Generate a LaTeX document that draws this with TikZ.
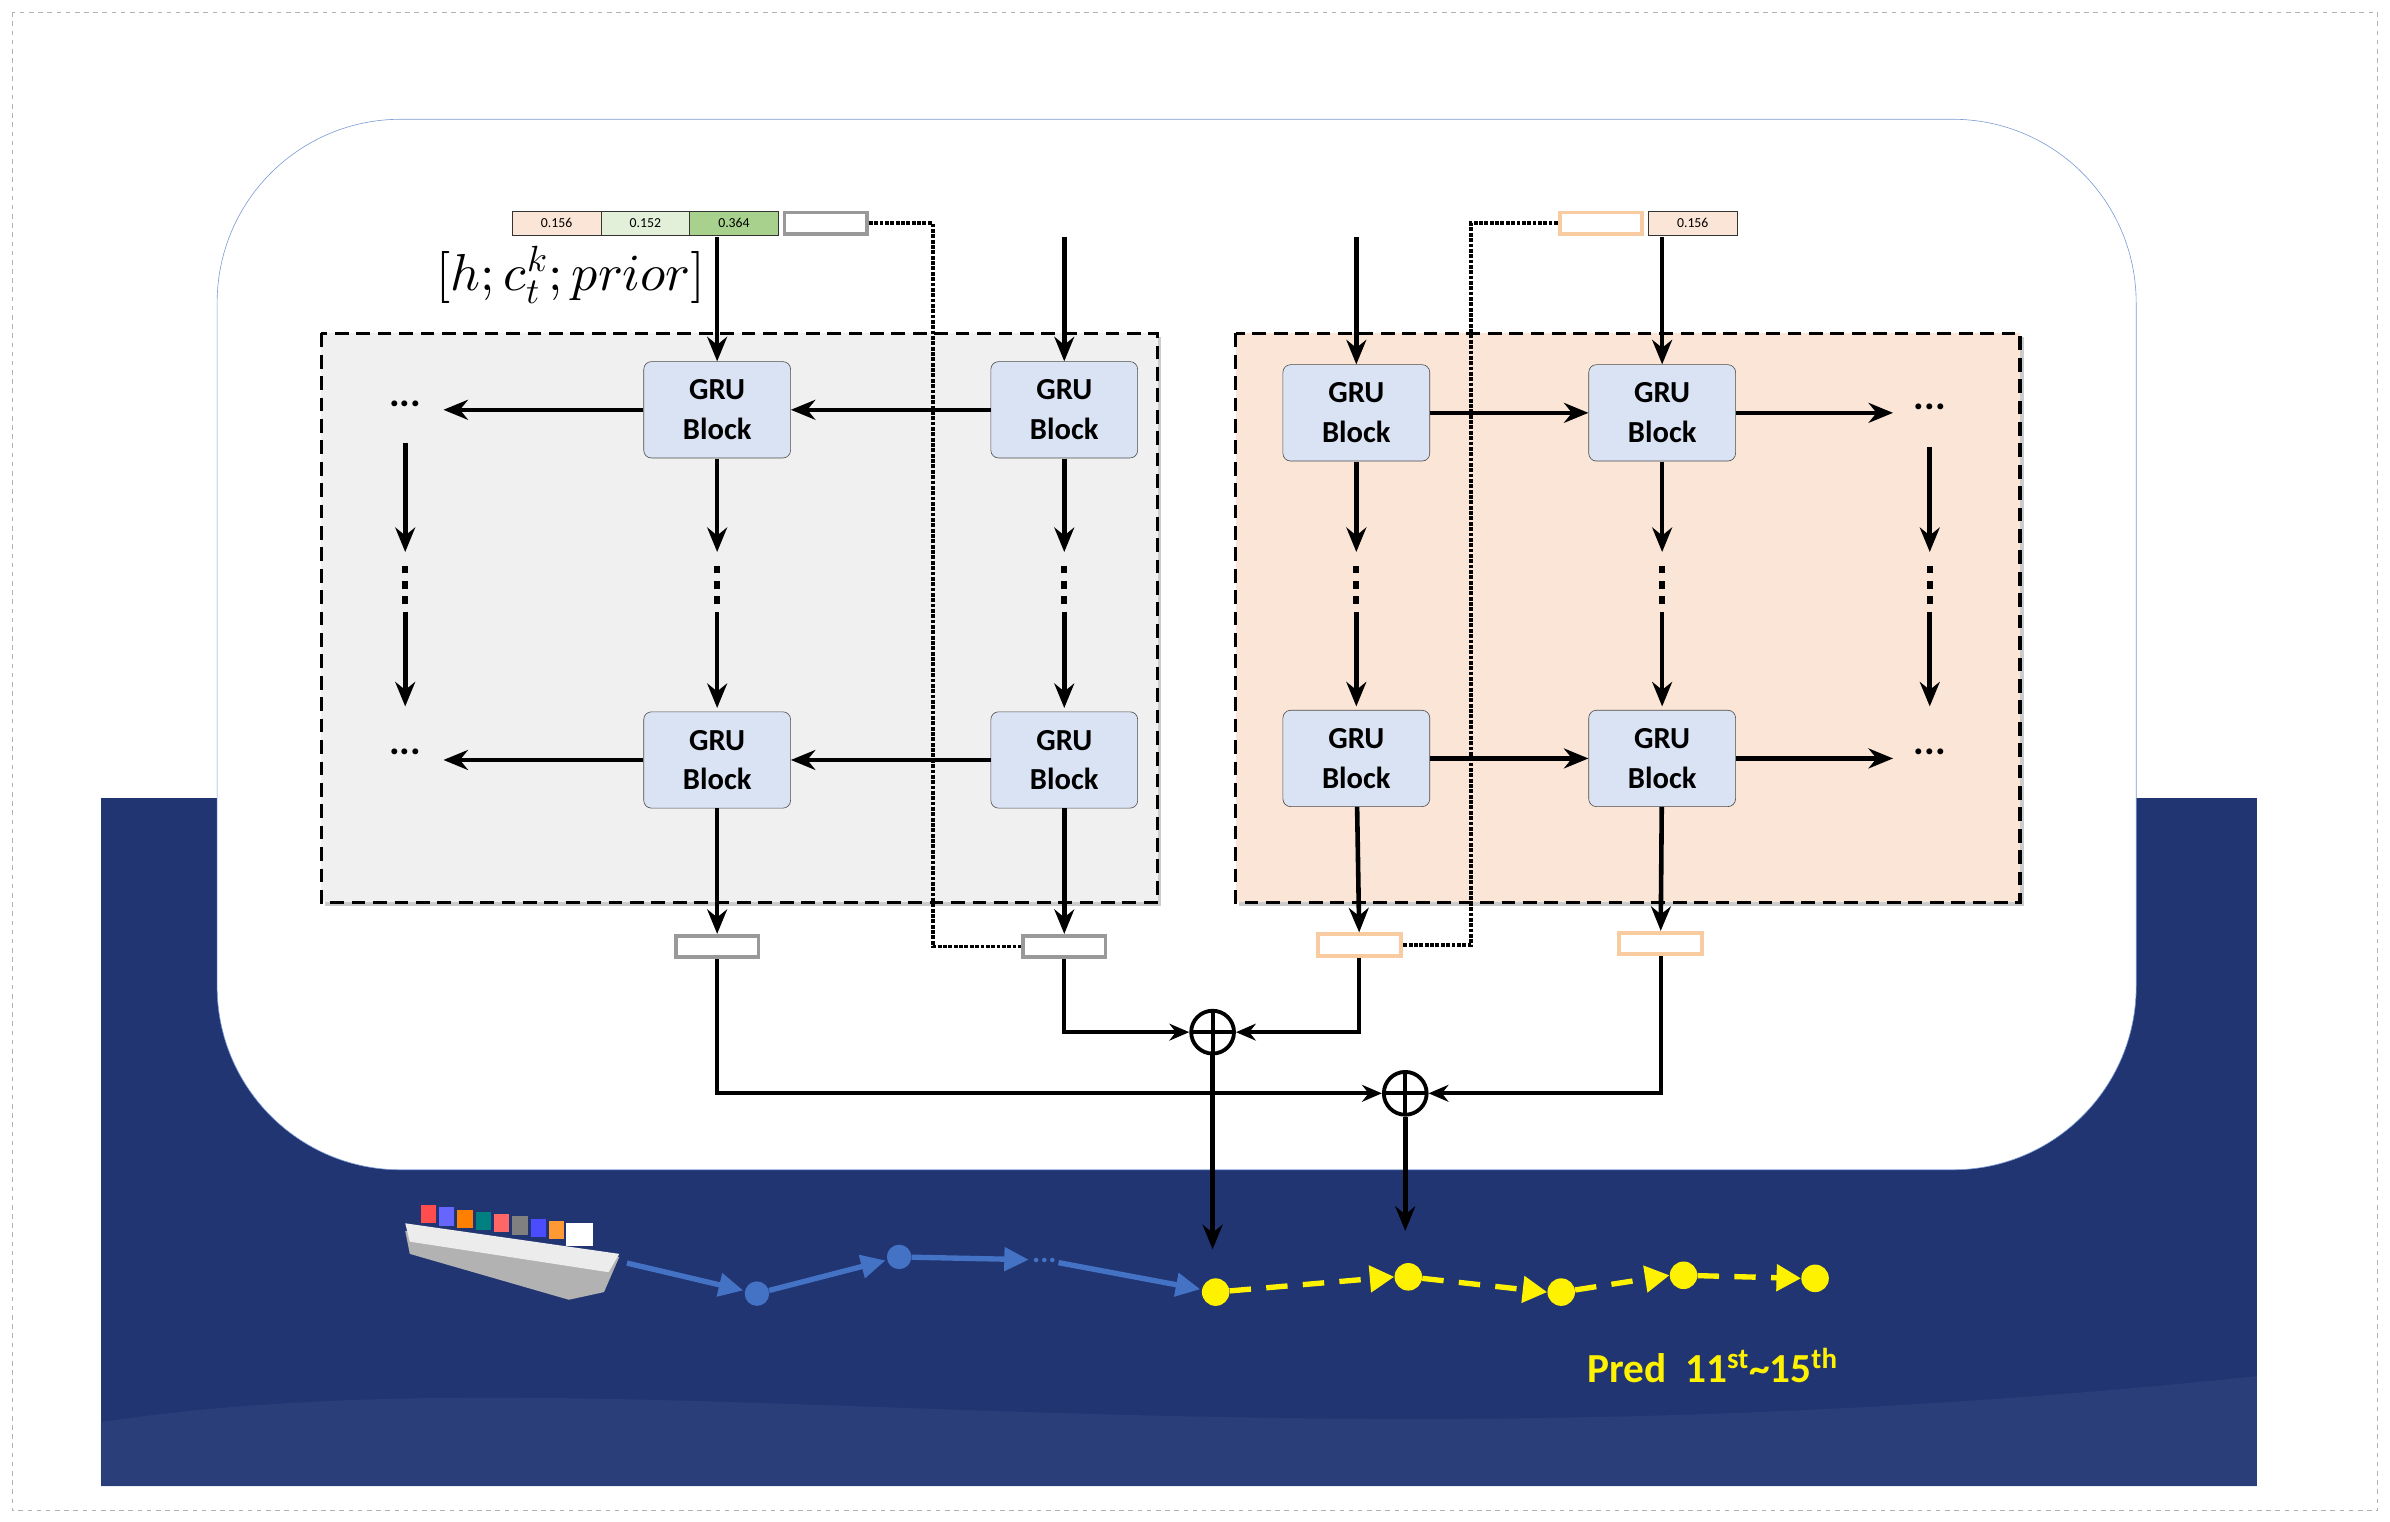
\documentclass[tikz,border=0pt]{standalone}
\usepackage{fontspec}
\setmainfont{Carlito}
\usepackage{unicode-math}
\setmathfont{Latin Modern Math}
\usetikzlibrary{arrows.meta,shadows}
\definecolor{gru}{RGB}{218,227,243}
\definecolor{peach}{RGB}{251,229,214}
\definecolor{lgreen}{RGB}{226,240,217}
\definecolor{mgreen}{RGB}{169,209,142}
\definecolor{ocean}{RGB}{33,53,115}
\definecolor{obox}{RGB}{248,203,160}
\definecolor{tblue}{RGB}{68,114,196}
\definecolor{yel}{RGB}{255,242,0}
\begin{document}
\begin{tikzpicture}[x=1pt,y=-1pt,
 gru/.style={draw=black!70,fill=gru,rounded corners=5pt,minimum width=96pt,minimum height=63pt,align=center,font=\fontsize{20}{26}\selectfont\bfseries},
 dots/.style={font=\fontsize{26}{26}\selectfont\bfseries,inner sep=1pt},
 arr/.style={-{Stealth[length=16pt,width=13pt]},line width=3pt},
 ln/.style={line width=2.5pt},
 cell/.style={draw=black!80,minimum width=58pt,minimum height=16pt,inner sep=0pt,font=\fontsize{9}{9}\selectfont},
 gbox/.style={draw=black!40,line width=2.5pt,fill=white,minimum width=54pt,minimum height=14pt,inner sep=0pt},
 obx/.style={draw=obox,line width=2.5pt,fill=white,minimum width=54pt,minimum height=14pt,inner sep=0pt},
 dotl/.style={densely dotted,line width=2.5pt},
 bpt/.style={circle,fill=tblue,inner sep=0pt,minimum size=16pt},
 ypt/.style={circle,fill=yel,inner sep=0pt,minimum size=18pt},
 barr/.style={-{Triangle[length=16pt,width=15pt]},line width=3.5pt,tblue,shorten >=1pt},
 yarr/.style={-{Triangle[length=16pt,width=17pt]},line width=3.5pt,yel,dash pattern=on 14pt off 10pt},
 oplus/.style={circle,draw,line width=2.5pt,minimum size=28pt,inner sep=0pt,path picture={\draw[line width=2.5pt] (path picture bounding box.north)--(path picture bounding box.south) (path picture bounding box.west)--(path picture bounding box.east);}}]
\useasboundingbox (0,0) rectangle (1563,995);
\draw[black!30,dashed] (8,8) rectangle (1555,988);
\fill[ocean] (66,522) rectangle (1476,972);
\fill[ocean!85!white,opacity=.3] (66,930) .. controls (400,880) and (800,970) .. (1476,900) -- (1476,972) -- (66,972) -- cycle;
\draw[tblue!70,fill=white] (142,78) [rounded corners=120pt] rectangle (1397,765);
% boxes
\draw[dash pattern=on 9pt off 5pt,line width=2pt,fill=black!6,drop shadow={opacity=.4}] (210,218) rectangle (757,590);
\draw[dash pattern=on 9pt off 5pt,line width=2pt,fill=peach,drop shadow={opacity=.4}] (808,218) rectangle (1321,590);
% GRU blocks
\node[gru] (a1) at (469,268) {GRU\\Block};
\node[gru] (a2) at (696,268) {GRU\\Block};
\node[gru] (a3) at (469,497) {GRU\\Block};
\node[gru] (a4) at (696,497) {GRU\\Block};
\node[gru] (b1) at (887,270) {GRU\\Block};
\node[gru] (b2) at (1087,270) {GRU\\Block};
\node[gru] (b3) at (887,496) {GRU\\Block};
\node[gru] (b4) at (1087,496) {GRU\\Block};
\node[dots] (d1) at (265,264) {...};
\node[dots] (d2) at (265,492) {...};
\node[dots] (d3) at (1262,266) {...};
\node[dots] (d4) at (1262,492) {...};
\draw[arr] (a2) -- (a1);
\draw[arr] (a1) -- (290,268);
\draw[arr] (a4) -- (a3);
\draw[arr] (a3) -- (290,497);
\draw[arr] (b1) -- (b2);
\draw[arr] (b2) -- (1238,270);
\draw[arr] (b3) -- (b4);
\draw[arr] (b4) -- (1238,496);
% vertical chains
\foreach \x/\t/\b in {265/290/462,469/300/463,696/300/463,887/302/462,1087/302/462,1262/292/462}{
 \draw[arr] (\x,\t) -- (\x,361);
 \draw[line width=4pt,dash pattern=on 5pt off 5pt] (\x,370) -- (\x,396);
 \draw[arr] (\x,400) -- (\x,\b);
}
% top inputs
\node[cell,fill=peach] (c1) at (364,146) {0.156};
\node[cell,fill=lgreen] (c2) at (422,146) {0.152};
\node[cell,fill=mgreen] (c3) at (480,146) {0.364};
\node[gbox] (g0) at (540,146) {};
\node[obx] (o0) at (1047,146) {};
\node[cell,fill=peach] (c4) at (1107,146) {0.156};
\node[font=\fontsize{34}{34}\selectfont] at (373,180) {$[h;c_t^k;prior]$};
\draw[arr] (469,155) -- (a1);
\draw[arr] (696,155) -- (a2);
\draw[arr] (887,155) -- (b1);
\draw[arr] (1087,155) -- (b2);
% outputs
\node[gbox] (g1) at (469,619) {};
\node[gbox] (g2) at (696,619) {};
\node[obx] (o1) at (889,618) {};
\node[obx] (o2) at (1086,617) {};
\draw[arr] (a3) -- (g1);
\draw[arr] (a4) -- (g2);
\draw[arr] (b3) -- (o1);
\draw[arr] (b4) -- (o2);
\draw[dotl] (g0.east) -- (610,146) -- (610,619) -- (g2.west);
\draw[dotl] (o0.west) -- (962,146) -- (962,618) -- (o1.east);
% sums
\node[oplus] (p1) at (793,675) {};
\node[oplus] (p2) at (919,715) {};
\draw[ln,-{Stealth[length=13pt,width=11pt]}] (g2.south) |- (p1.west);
\draw[ln,-{Stealth[length=13pt,width=11pt]}] (o1.south) |- (p1.east);
\draw[ln,-{Stealth[length=13pt,width=11pt]}] (g1.south) |- (p2.west);
\draw[ln,-{Stealth[length=13pt,width=11pt]}] (o2.south) |- (p2.east);
% ship
\begin{scope}
\fill[gray!60] (265,805) -- (405,822) -- (395,845) -- (372,850) -- (268,820) -- cycle;
\fill[white!85!gray] (265,800) -- (405,820) -- (398,832) -- (268,812) -- cycle;
\foreach \i/\c in {0/red!70,1/blue!60,2/orange,3/teal,4/red!60,5/gray,6/blue!70,7/orange!80}
  \fill[\c] (275+\i*12,800+\i*1.5) rectangle ++(10,-12);
\fill[white] (370,815) rectangle (388,800);
\end{scope}
% trajectory
\node[bpt] (t1) at (495,846) {};
\node[bpt] (t2) at (588,822) {};
\node[dots,tblue,font=\fontsize{20}{20}\selectfont\bfseries] (t3) at (683,824) {...};
\node[ypt] (y1) at (795,845) {};
\node[ypt] (y2) at (921,835) {};
\node[ypt] (y3) at (1021,845) {};
\node[ypt] (y4) at (1101,834) {};
\node[ypt] (y5) at (1187,836) {};
\coordinate (s0) at (410,826);
\draw[barr] (s0) -- (t1);
\draw[barr] (t1) -- (t2);
\draw[barr] (t2) -- (t3);
\draw[barr] (t3) -- (y1);
\draw[yarr] (y1) -- (y2.west);
\draw[yarr] (y2) -- (y3.west);
\draw[yarr] (y3) -- (y4.west);
\draw[yarr] (y4) -- (y5.west);
\draw[arr] (p1) -- (793,817);
\draw[arr] (p2) -- (919,805);
\node[yel,font=\fontsize{27}{27}\selectfont\bfseries] at (1120,893) {Pred\ \ 11\textsuperscript{st}\textasciitilde15\textsuperscript{th}};
\end{tikzpicture}
\end{document}
